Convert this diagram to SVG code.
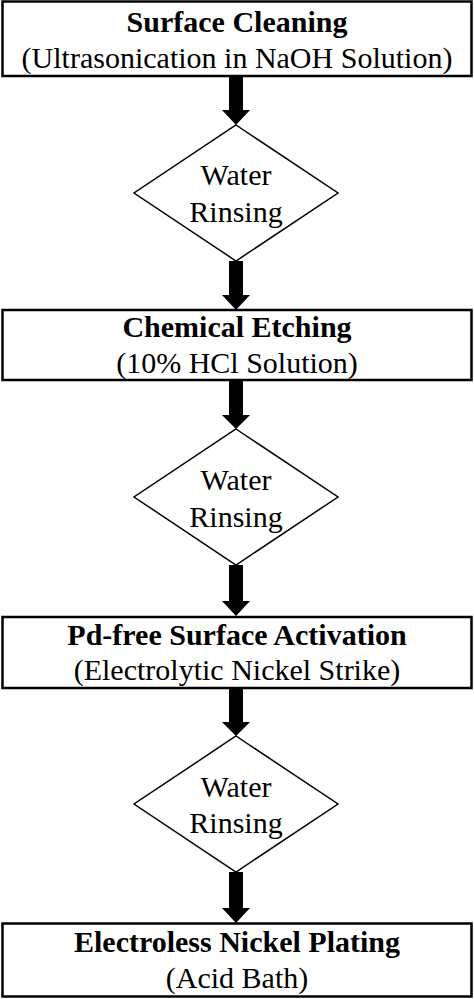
<svg xmlns="http://www.w3.org/2000/svg" width="474" height="999" viewBox="0 0 474 999">
<style>
.box{fill:#fff;stroke:#000;stroke-width:2.5}
.dia{fill:#fff;stroke:#000;stroke-width:1.5}
.arr{fill:#000;stroke:none}
text{font-family:"Liberation Serif","Times New Roman",serif;font-size:30px;fill:#000;text-anchor:middle}
.b{font-weight:bold}
</style>
<rect width="474" height="999" fill="#fff"/>
<g id="connectors">
<polygon class="arr" points="229,76 243,76 243,110 250,110 236,125 222,110 229,110"/>
<polygon class="arr" points="229,261 243,261 243,295 250,295 236,310 222,295 229,295"/>
<polygon class="arr" points="229,380 243,380 243,415 250,415 236,429 222,415 229,415"/>
<polygon class="arr" points="229,565 243,565 243,601 250,601 236,616 222,601 229,601"/>
<polygon class="arr" points="229,688 243,688 243,722 250,722 236,736 222,722 229,722"/>
<polygon class="arr" points="229,872 243,872 243,908 250,908 236,923 222,908 229,908"/>
</g>
<g id="surface-cleaning">
<rect class="box" x="2.5" y="1.5" width="469" height="74.5"/>
<text class="b" x="237" y="32">Surface Cleaning</text>
<text x="237" y="68">(Ultrasonication in NaOH Solution)</text>
</g>
<g id="rinse1">
<polygon class="dia" points="236,125 338,193 236,261 134,193"/>
<text x="236" y="185">Water</text>
<text x="236" y="222">Rinsing</text>
</g>
<g id="chemical-etching">
<rect class="box" x="2.5" y="310" width="469" height="70"/>
<text class="b" x="237" y="337">Chemical Etching</text>
<text x="237" y="373">(10% HCl Solution)</text>
</g>
<g id="rinse2">
<polygon class="dia" points="236,429 338,497 236,565 134,497"/>
<text x="236" y="490">Water</text>
<text x="236" y="527">Rinsing</text>
</g>
<g id="activation">
<rect class="box" x="2.5" y="617" width="469" height="71"/>
<text class="b" x="237" y="645">Pd-free Surface Activation</text>
<text x="237" y="680">(Electrolytic Nickel Strike)</text>
</g>
<g id="rinse3">
<polygon class="dia" points="236,736 338,804 236,872 134,804"/>
<text x="236" y="797">Water</text>
<text x="236" y="833">Rinsing</text>
</g>
<g id="electroless-plating">
<rect class="box" x="2.5" y="923.5" width="469" height="73"/>
<text class="b" x="237" y="952">Electroless Nickel Plating</text>
<text x="237" y="988">(Acid Bath)</text>
</g>
</svg>
